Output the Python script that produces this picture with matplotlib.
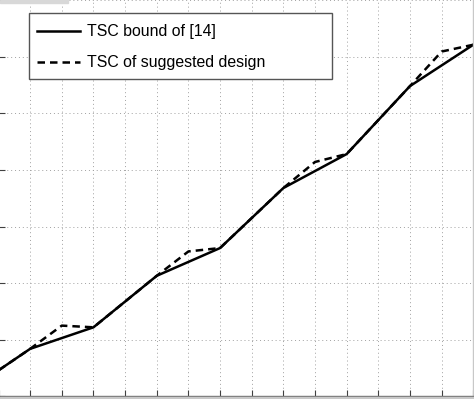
import numpy as np
import matplotlib
matplotlib.use("Agg")
import matplotlib.pyplot as plt
from matplotlib.patches import Rectangle

# values (grid units)
x_bound = [0, 1, 3, 5, 7, 9, 11, 13, 15]
y_bound = [0.46, 0.84, 1.22, 2.13, 2.62, 3.68, 4.28, 5.48, 6.21]

x_design = [0, 1, 2, 3, 5, 6, 7, 9, 10, 11, 13, 14, 15]
y_design = [0.46, 0.84, 1.25, 1.22, 2.13, 2.56, 2.62, 3.68, 4.14, 4.28, 5.48, 6.09, 6.21]

labels = ["TSC bound of [14]", "TSC of suggested design"]

plt.rcParams["font.family"] = ["Liberation Sans", "DejaVu Sans"]

W, H = 474, 399
fig = plt.figure(figsize=(W / 100, H / 100), dpi=100)
# axes runs off the crop on the left and top, like the reference
left = -1.5 / W
bottom = 2.6 / H
ax = fig.add_axes([left, bottom, (473.3 / W) - left, 1 - bottom])

ax.plot(x_bound, y_bound, color="k", lw=1.8, label=labels[0])
ax.plot(x_design, y_design, color="k", lw=1.8, ls=(0, (3.0, 2.0)), label=labels[1])

ax.set_xlim(0, 15)
ax.set_ylim(0, 7)
ax.set_xticks(np.arange(0, 16, 1))
ax.set_yticks(np.arange(0, 8, 1))
ax.tick_params(direction="in", length=4, width=0.8, color="#404040",
               labelbottom=False, labelleft=False)
ax.grid(True, ls=(0, (1, 3)), color="#a0a0a0", lw=0.7)
ax.set_axisbelow(True)

ax.spines["top"].set_visible(False)
ax.spines["left"].set_visible(False)
ax.spines["right"].set_color("#c8c8c8")
ax.spines["right"].set_linewidth(1.0)
ax.spines["bottom"].set_color("#707070")
ax.spines["bottom"].set_linewidth(1.0)

# legend entries without matplotlib's frame; MATLAB-style wide box drawn separately
leg = ax.legend(loc="upper left", bbox_to_anchor=(32 / W, 1 - 19.5 / H),
                bbox_transform=fig.transFigure, fontsize=11.4, frameon=False,
                handlelength=2.75, handletextpad=0.4,
                borderpad=0.3, labelspacing=1.02, borderaxespad=0)
box = Rectangle((28.5 / W, 1 - 79 / H), 303 / W, 66 / H,
                transform=fig.transFigure, facecolor="white",
                edgecolor="#555555", lw=1.0, zorder=4.5, clip_on=False)
ax.add_patch(box)

# light grey strips at the cropped edges
fig.patches.append(Rectangle((0, 1 - 3 / H), 68 / W, 3 / H, transform=fig.transFigure,
                             color="#d8d8d8", zorder=0))
fig.patches.append(Rectangle((0, 0), 1, 2 / H, transform=fig.transFigure,
                             color="#c8c8c8", zorder=0))

fig.savefig("out.png", dpi=100)
